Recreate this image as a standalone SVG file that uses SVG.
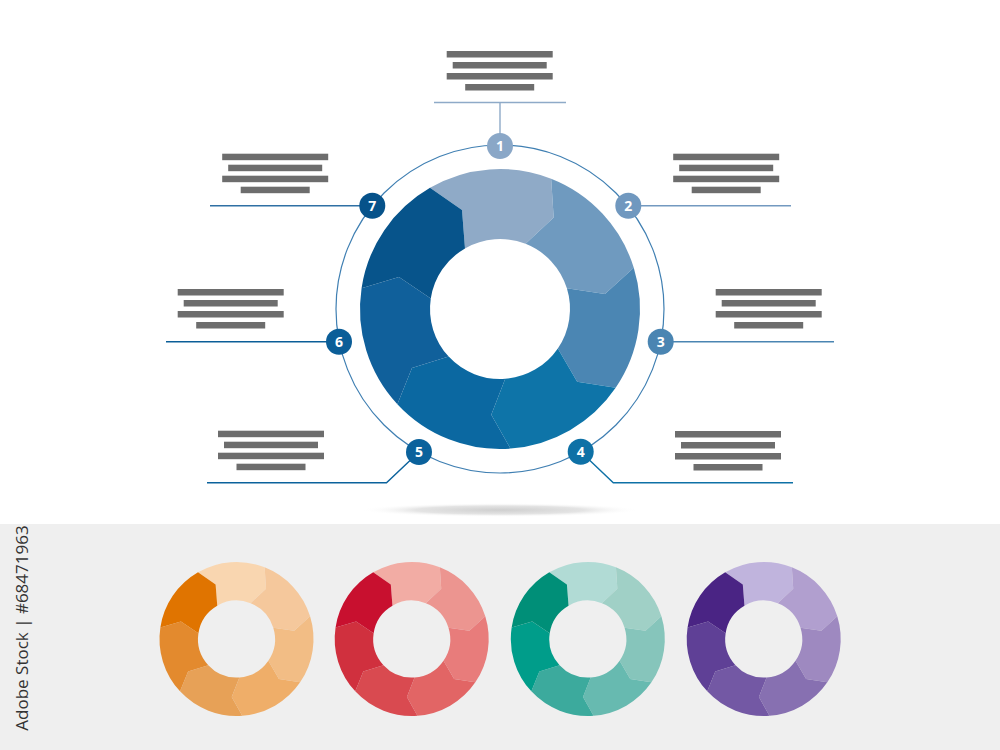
<svg xmlns="http://www.w3.org/2000/svg" width="1000" height="750" viewBox="0 0 1000 750">
<style>
.bar{fill:#6d6d6d}
.num{font-family:"Open Sans","Liberation Sans",sans-serif;font-weight:700;font-size:14px;fill:#ffffff;text-anchor:middle}
.lead{fill:none;stroke-width:1.4}
</style>
<defs>
<radialGradient id="sh" cx="0.5" cy="0.5" r="0.5">
<stop offset="0" stop-color="#cfcfcf"/>
<stop offset="0.6" stop-color="#e4e4e4"/>
<stop offset="1" stop-color="#ffffff" stop-opacity="0"/>
</radialGradient>
<path id="s1" d="M-70,-121.24 A140,140 0 0 1 51.15,-130.32 L53.69,-91.40 L25.57,-65.16 A70,70 0 0 0 -35,-60.62 L-37.99,-98.96 Z"/>
<path id="s2" d="M51.15,-130.32 A140,140 0 0 1 133.78,-41.27 L104.93,-15.01 L66.89,-20.63 A70,70 0 0 0 25.57,-65.16 L53.69,-91.40 Z"/>
<path id="s3" d="M133.78,-41.27 A140,140 0 0 1 115.67,78.86 L77.17,72.67 L57.84,39.43 A70,70 0 0 0 66.89,-20.63 L104.93,-15.01 Z"/>
<path id="s4" d="M115.67,78.86 A140,140 0 0 1 10.47,139.61 L-8.70,105.64 L5.24,69.80 A70,70 0 0 0 57.84,39.43 L77.17,72.67 Z"/>
<path id="s5" d="M10.47,139.61 A140,140 0 0 1 -102.63,95.22 L-88.02,59.06 L-51.31,47.61 A70,70 0 0 0 5.24,69.80 L-8.70,105.64 Z"/>
<path id="s6" d="M-102.63,95.22 A140,140 0 0 1 -138.44,-20.87 L-101.05,-32.00 L-69.22,-10.43 A70,70 0 0 0 -51.31,47.61 L-88.02,59.06 Z"/>
<path id="s7" d="M-138.44,-20.87 A140,140 0 0 1 -70,-121.24 L-37.99,-98.96 L-35,-60.62 A70,70 0 0 0 -69.22,-10.43 L-101.05,-32.00 Z"/>
<g id="bars">
<rect class="bar" x="0" y="0" width="106" height="6.5"/>
<rect class="bar" x="6" y="11" width="94" height="6.5"/>
<rect class="bar" x="0" y="22" width="106" height="6.5"/>
<rect class="bar" x="18.5" y="33" width="69" height="6.5"/>
</g>
</defs>
<rect x="0" y="0" width="1000" height="750" fill="#ffffff"/>
<rect x="0" y="524" width="1000" height="226" fill="#efefef"/>
<ellipse cx="500" cy="510" rx="140" ry="7" fill="url(#sh)"/>

<g id="connectors">
<circle cx="500" cy="309" r="164" fill="none" stroke="#3f7fb2" stroke-width="1.2"/>
<line class="lead" x1="434" y1="102.5" x2="566" y2="102.5" stroke="#8eaac8"/>
<line class="lead" x1="500" y1="102.5" x2="500" y2="146" stroke="#8eaac8"/>
<line class="lead" x1="628" y1="205.7" x2="791" y2="205.7" stroke="#7399c0"/>
<line class="lead" x1="661" y1="341.7" x2="834" y2="341.7" stroke="#4a85b2"/>
<polyline class="lead" points="580.7,451.7 613.3,482.7 793,482.7" stroke="#0e71a6"/>
<polyline class="lead" points="419,452 386.5,482.7 207,482.7" stroke="#0b629c"/>
<line class="lead" x1="166" y1="341.7" x2="339" y2="341.7" stroke="#0b5e98"/>
<line class="lead" x1="210" y1="205.7" x2="372" y2="205.7" stroke="#2f70a4"/>
</g>

<g id="main-ring" transform="translate(500,309)">
<use href="#s1" fill="#8faac7"/>
<use href="#s2" fill="#6f9abf"/>
<use href="#s3" fill="#4b86b3"/>
<use href="#s4" fill="#0e74a8"/>
<use href="#s5" fill="#0b68a1"/>
<use href="#s6" fill="#10609b"/>
<use href="#s7" fill="#07548b"/>
</g>

<g id="node1"><circle cx="500" cy="146" r="13" fill="#8aa7c7"/><text class="num" x="500" y="151">1</text><use href="#bars" x="446.7" y="51"/></g>
<g id="node2"><circle cx="628.3" cy="205.7" r="13" fill="#7098bf"/><text class="num" x="628.3" y="210.7">2</text><use href="#bars" x="673.2" y="153.7"/></g>
<g id="node3"><circle cx="660.7" cy="341.7" r="13" fill="#4a85b2"/><text class="num" x="660.7" y="346.7">3</text><use href="#bars" x="715.7" y="289"/></g>
<g id="node4"><circle cx="580.7" cy="451.7" r="13" fill="#0e71a6"/><text class="num" x="580.7" y="456.7">4</text><use href="#bars" x="675" y="431"/></g>
<g id="node5"><circle cx="419" cy="452" r="13" fill="#0b629c"/><text class="num" x="419" y="457">5</text><use href="#bars" x="218" y="430.7"/></g>
<g id="node6"><circle cx="339" cy="341.7" r="13" fill="#0b5e98"/><text class="num" x="339" y="346.7">6</text><use href="#bars" x="177.7" y="289"/></g>
<g id="node7"><circle cx="372.3" cy="205.7" r="13" fill="#06528a"/><text class="num" x="372.3" y="210.7">7</text><use href="#bars" x="222.2" y="153.7"/></g>

<g id="ring-orange" transform="translate(236.5,639) scale(0.55)">
<use href="#s1" fill="#f9d6b0"/>
<use href="#s2" fill="#f5c89c"/>
<use href="#s3" fill="#f2bd85"/>
<use href="#s4" fill="#efae69"/>
<use href="#s5" fill="#e7a157"/>
<use href="#s6" fill="#e38a2e"/>
<use href="#s7" fill="#e07400"/>
</g>
<g id="ring-red" transform="translate(411.7,639) scale(0.55)">
<use href="#s1" fill="#f2aca4"/>
<use href="#s2" fill="#ec9590"/>
<use href="#s3" fill="#e87c7b"/>
<use href="#s4" fill="#e26565"/>
<use href="#s5" fill="#d94a50"/>
<use href="#s6" fill="#d0303e"/>
<use href="#s7" fill="#c8102f"/>
</g>
<g id="ring-green" transform="translate(587.8,639) scale(0.55)">
<use href="#s1" fill="#b1dbd5"/>
<use href="#s2" fill="#a0d0c6"/>
<use href="#s3" fill="#86c5bb"/>
<use href="#s4" fill="#67bab0"/>
<use href="#s5" fill="#3caa9d"/>
<use href="#s6" fill="#009d8a"/>
<use href="#s7" fill="#008f78"/>
</g>
<g id="ring-purple" transform="translate(763.7,639) scale(0.55)">
<use href="#s1" fill="#c0b4dd"/>
<use href="#s2" fill="#b19fcf"/>
<use href="#s3" fill="#9e89c0"/>
<use href="#s4" fill="#8770b1"/>
<use href="#s5" fill="#7358a4"/>
<use href="#s6" fill="#5f4096"/>
<use href="#s7" fill="#4a2484"/>
</g>

<text transform="translate(28,628) rotate(-90)" text-anchor="middle" font-family="'Open Sans','Liberation Sans',sans-serif" font-size="17" fill="#333333">Adobe Stock | #68471963</text>
</svg>
